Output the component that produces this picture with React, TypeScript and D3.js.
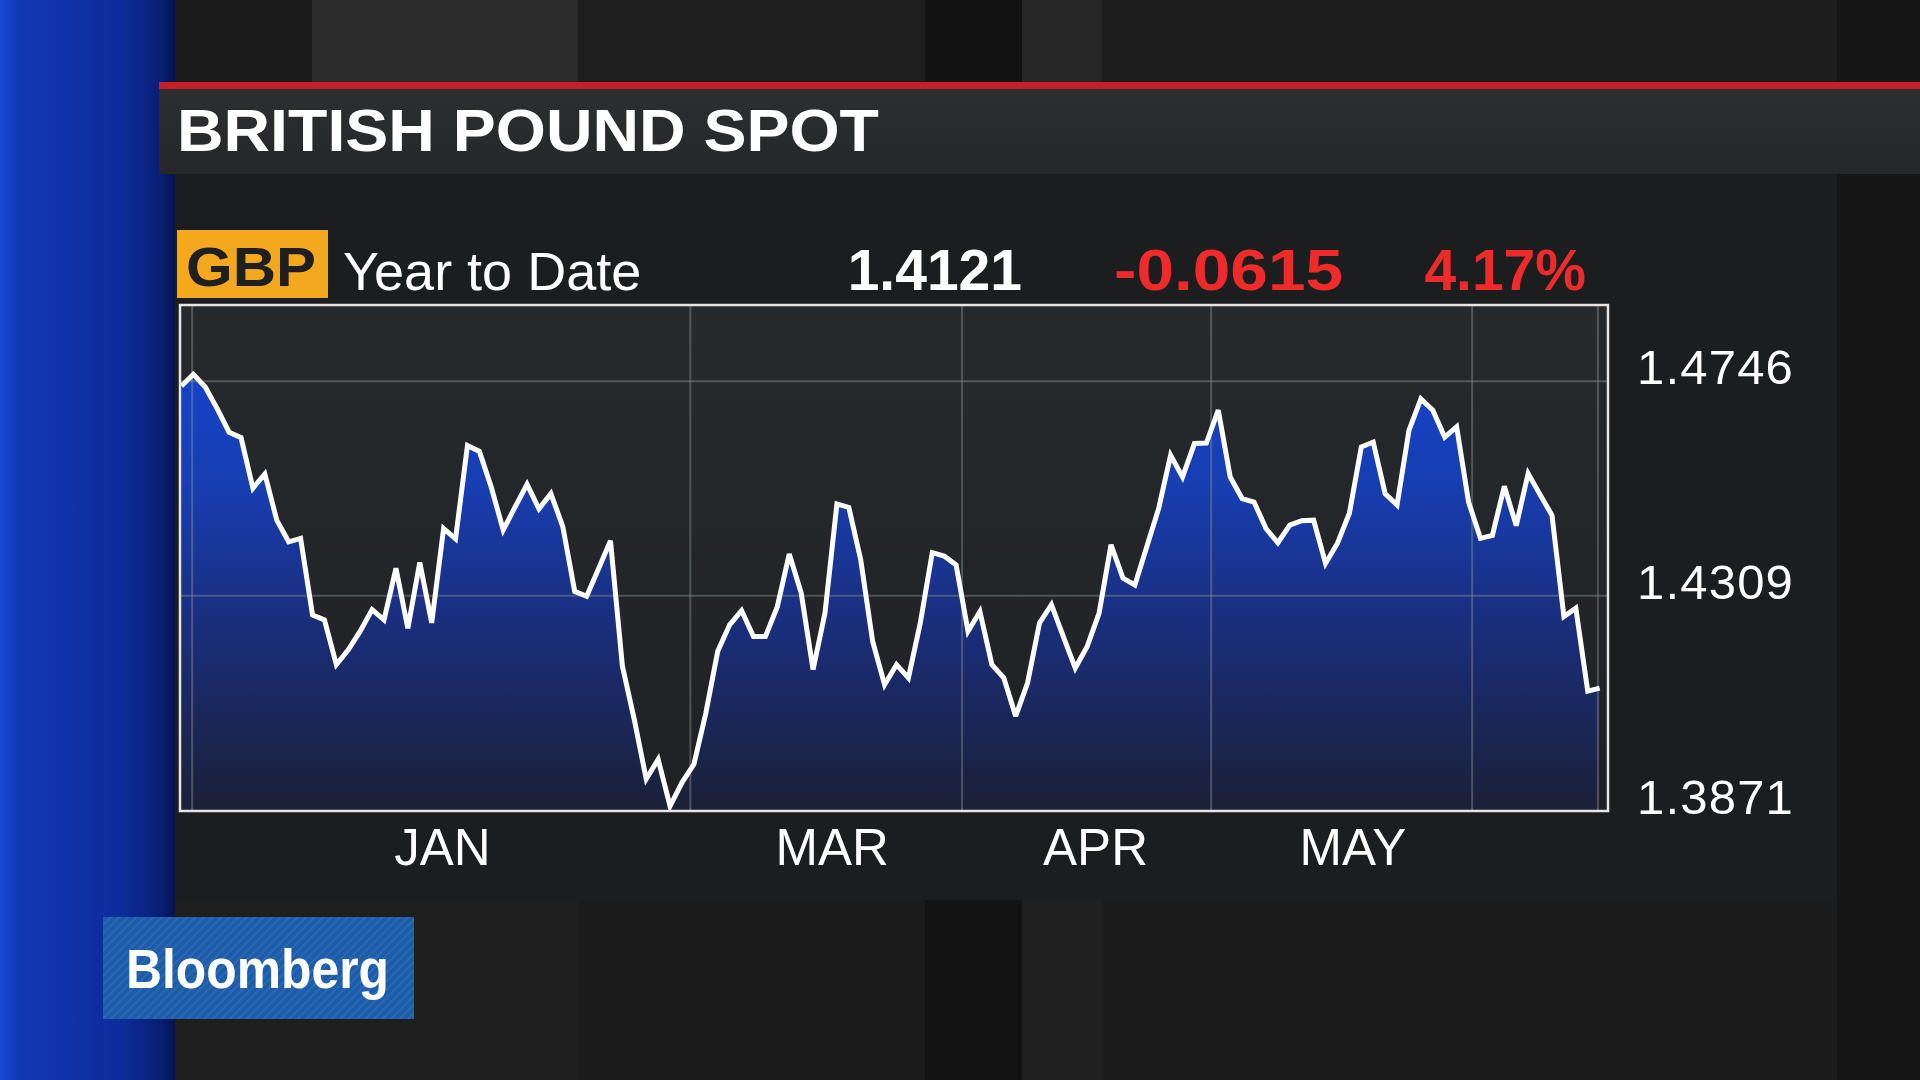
import { useEffect, useRef } from 'react';
import * as d3 from 'd3';

// GBP spot, one value per trading day, first value = Dec 31 close (day -1)
const firstDay = -1;
const gbpClose = [
  1.4736, 1.476, 1.4734, 1.469, 1.4642, 1.4631, 1.4528, 1.4557, 1.4463, 1.4419,
  1.4426, 1.427, 1.426, 1.4169, 1.4199, 1.4237, 1.4281, 1.426, 1.4365, 1.4243,
  1.4377, 1.4254, 1.4446, 1.4425, 1.4615, 1.4603, 1.453, 1.4443, 1.449, 1.4536,
  1.4486, 1.4517, 1.445, 1.4318, 1.4308, 1.4364, 1.4421, 1.4166, 1.4057, 1.3936,
  1.3976, 1.3881, 1.3929, 1.3966, 1.407, 1.4196, 1.425, 1.4279, 1.4226, 1.4226,
  1.4287, 1.4394, 1.4315, 1.4159, 1.4274, 1.4496, 1.4489, 1.4382, 1.4216, 1.4128,
  1.4169, 1.4142, 1.4254, 1.4397, 1.439, 1.4372, 1.4237, 1.4277, 1.4169, 1.4142,
  1.4064, 1.4132, 1.4254, 1.4291, 1.4226, 1.4162, 1.4206, 1.4274, 1.4413, 1.4345,
  1.4331, 1.4409, 1.4487, 1.4595, 1.4551, 1.4619, 1.462, 1.4687, 1.4551, 1.4507,
  1.45, 1.4446, 1.4417, 1.4453, 1.4462, 1.4463, 1.4375, 1.4416, 1.4477, 1.4612,
  1.4622, 1.4517, 1.4494, 1.4646, 1.471, 1.4687, 1.4632, 1.4653, 1.45, 1.4426,
  1.4432, 1.4532, 1.4452, 1.4558, 1.4515, 1.4473, 1.4267, 1.4284, 1.4115, 1.4121,
];

// month boundaries in trading days
const monthGrid = [-0.1, 41.7, 64.5, 85.4, 107.3, 117.85];
const monthLabels = ['JAN', 'MAR', 'APR', 'MAY'];
const monthLabelDays = [20.9, 53.6, 75.7, 97.3];
const yTicks = [1.4746, 1.4309, 1.3871];

const ticker = 'GBP';
const period = 'Year to Date';
const lastPrice = '1.4121';
const netChange = '-0.0615';
const pctChange = '4.17%';

export default function App() {
  const svgRef = useRef<SVGSVGElement>(null);

  useEffect(() => {
    if (!svgRef.current) return;
    const W = 1920;
    const H = 1080;
    const plot = { left: 180, right: 1608, top: 305, bottom: 811 };
    const font = '"Liberation Sans", Arial, sans-serif';

    d3.select(svgRef.current).selectAll('*').remove();
    const svg = d3.select(svgRef.current).attr('width', W).attr('height', H);
    const defs = svg.append('defs');

    const blue = defs.append('linearGradient').attr('id', 'blueStrip')
      .attr('x1', 0).attr('x2', 1).attr('y1', 0).attr('y2', 0);
    blue.append('stop').attr('offset', 0).attr('stop-color', '#1b47d8');
    blue.append('stop').attr('offset', 0.1).attr('stop-color', '#1338b4');
    blue.append('stop').attr('offset', 0.7).attr('stop-color', '#0d2b9a');
    blue.append('stop').attr('offset', 0.93).attr('stop-color', '#081d72');
    blue.append('stop').attr('offset', 1).attr('stop-color', '#05124a');

    const plotBg = defs.append('linearGradient').attr('id', 'plotBg')
      .attr('x1', 0).attr('x2', 0).attr('y1', 0).attr('y2', 1);
    plotBg.append('stop').attr('offset', 0).attr('stop-color', '#272a2d');
    plotBg.append('stop').attr('offset', 1).attr('stop-color', '#1f2124');

    const fill = defs.append('linearGradient').attr('id', 'areaFill')
      .attr('gradientUnits', 'userSpaceOnUse')
      .attr('x1', 0).attr('x2', 0).attr('y1', plot.top).attr('y2', plot.bottom);
    fill.append('stop').attr('offset', 0).attr('stop-color', '#1346d6');
    fill.append('stop').attr('offset', 0.35).attr('stop-color', '#173eb2');
    fill.append('stop').attr('offset', 0.6).attr('stop-color', '#1a2f82');
    fill.append('stop').attr('offset', 1).attr('stop-color', '#1b2036');

    const bar = defs.append('linearGradient').attr('id', 'titleBar')
      .attr('x1', 0).attr('x2', 0).attr('y1', 0).attr('y2', 1);
    bar.append('stop').attr('offset', 0).attr('stop-color', '#2d2e30');
    bar.append('stop').attr('offset', 1).attr('stop-color', '#262729');

    defs.append('clipPath').attr('id', 'plotClip')
      .append('rect')
      .attr('x', plot.left).attr('y', plot.top)
      .attr('width', plot.right - plot.left).attr('height', plot.bottom - plot.top);

    // studio background
    svg.append('rect').attr('width', W).attr('height', H).attr('fill', '#1b1b1c');
    const topCols = [
      [175, 312, '#1b1b1b'], [312, 578, '#2c2c2c'], [578, 925, '#1e1e1e'],
      [925, 1022, '#121212'], [1022, 1102, '#262626'], [1102, 1837, '#1d1d1d'], [1837, 1920, '#151515'],
    ] as [number, number, string][];
    topCols.forEach(([a, b, c]) => svg.append('rect').attr('x', a).attr('y', 0).attr('width', b - a).attr('height', 84).attr('fill', c));
    const botCols = [
      [175, 578, '#1e1e1f'], [578, 925, '#1b1b1b'], [925, 1022, '#131313'],
      [1022, 1102, '#202020'], [1102, 1837, '#1c1c1c'], [1837, 1920, '#151515'],
    ] as [number, number, string][];
    botCols.forEach(([a, b, c]) => svg.append('rect').attr('x', a).attr('y', 900).attr('width', b - a).attr('height', 180).attr('fill', c));
    svg.append('rect').attr('x', 175).attr('y', 174).attr('width', 1662).attr('height', 726).attr('fill', '#1c1d1f');
    svg.append('rect').attr('x', 1837).attr('y', 174).attr('width', 83).attr('height', 726).attr('fill', '#151515');
    svg.append('rect').attr('x', 0).attr('y', 0).attr('width', 175).attr('height', H).attr('fill', 'url(#blueStrip)');

    // title bar
    svg.append('rect').attr('x', 159).attr('y', 82).attr('width', W - 159).attr('height', 7).attr('fill', '#c61f29');
    svg.append('rect').attr('x', 159).attr('y', 89).attr('width', W - 159).attr('height', 85).attr('fill', 'url(#titleBar)');
    svg.append('text')
      .attr('x', 177).attr('y', 151)
      .attr('font-family', font)
      .attr('font-weight', 700).attr('font-size', 60)
      .attr('textLength', 702).attr('lengthAdjust', 'spacingAndGlyphs')
      .attr('fill', '#ffffff')
      .text('BRITISH POUND SPOT');

    // header row
    svg.append('rect').attr('x', 177).attr('y', 230).attr('width', 151).attr('height', 68).attr('fill', '#f3a81d');
    svg.append('text').attr('x', 186).attr('y', 286).attr('font-family', font).attr('font-weight', 700)
      .attr('font-size', 56).attr('fill', '#1f1f1f').attr('textLength', 130).attr('lengthAdjust', 'spacingAndGlyphs').text(ticker);
    svg.append('text').attr('x', 343).attr('y', 290).attr('font-family', font)
      .attr('font-size', 54).attr('fill', '#ffffff').text(period);
    svg.append('text').attr('x', 1022).attr('y', 290).attr('text-anchor', 'end').attr('font-family', font)
      .attr('font-weight', 700).attr('font-size', 57).attr('fill', '#ffffff').text(lastPrice);
    svg.append('text').attr('x', 1343).attr('y', 290).attr('text-anchor', 'end').attr('font-family', font)
      .attr('font-weight', 700).attr('font-size', 57).attr('fill', '#ee2b2b')
      .attr('textLength', 229).attr('lengthAdjust', 'spacingAndGlyphs').text(netChange);
    svg.append('text').attr('x', 1586).attr('y', 290).attr('text-anchor', 'end').attr('font-family', font)
      .attr('font-weight', 700).attr('font-size', 57).attr('fill', '#ee2b2b').text(pctChange);

    // scales
    const x = d3.scaleLinear().domain([-1.12, 118.7]).range([plot.left, plot.right]);
    const y = d3.scaleLinear().domain([1.3871, 1.4901]).range([plot.bottom, plot.top]);
    const data = gbpClose.map((v, i) => ({ day: i + firstDay, value: v }));

    svg.append('rect')
      .attr('x', plot.left).attr('y', plot.top)
      .attr('width', plot.right - plot.left).attr('height', plot.bottom - plot.top)
      .attr('fill', 'url(#plotBg)');

    const g = svg.append('g').attr('clip-path', 'url(#plotClip)');

    // area
    const area = d3.area<{ day: number; value: number }>()
      .x(d => x(d.day)).y0(y(yTicks[2])).y1(d => y(d.value));
    g.append('path').datum(data).attr('d', area).attr('fill', 'url(#areaFill)');

    // grid over the fill, faint
    g.selectAll('.hgrid').data(yTicks.slice(0, 2)).join('line')
      .attr('x1', plot.left).attr('x2', plot.right)
      .attr('y1', d => y(d)).attr('y2', d => y(d))
      .attr('stroke', '#8a8d90').attr('stroke-opacity', 0.45).attr('stroke-width', 2);
    g.selectAll('.vgrid').data(monthGrid).join('line')
      .attr('x1', d => x(d)).attr('x2', d => x(d))
      .attr('y1', plot.top).attr('y2', plot.bottom)
      .attr('stroke', '#8a8d90').attr('stroke-opacity', 0.45).attr('stroke-width', 2);

    const line = d3.line<{ day: number; value: number }>()
      .x(d => x(d.day)).y(d => y(d.value));
    g.append('path').datum(data).attr('d', line)
      .attr('fill', 'none').attr('stroke', '#ffffff').attr('stroke-width', 5)
      .attr('stroke-linejoin', 'miter').attr('stroke-miterlimit', 3);

    // frame
    svg.append('rect')
      .attr('x', plot.left).attr('y', plot.top)
      .attr('width', plot.right - plot.left).attr('height', plot.bottom - plot.top)
      .attr('fill', 'none').attr('stroke', '#e6e6e6').attr('stroke-width', 2.5);

    // y labels on the right
    svg.selectAll('.ylab').data(yTicks).join('text')
      .attr('x', 1637).attr('y', d => y(d) + 3)
      .attr('font-family', font).attr('font-size', 49).attr('letter-spacing', 1.2).attr('fill', '#ffffff')
      .text(d => d.toFixed(4));

    // month labels
    svg.selectAll('.xlab').data(monthLabels).join('text')
      .attr('x', (d, i) => x(monthLabelDays[i]))
      .attr('y', 865)
      .attr('text-anchor', 'middle')
      .attr('font-family', font).attr('font-size', 51).attr('fill', '#ffffff')
      .text(d => d);

    // Bloomberg bug
    const pat = defs.append('pattern').attr('id', 'bbgTex').attr('patternUnits', 'userSpaceOnUse')
      .attr('width', 6).attr('height', 6).attr('patternTransform', 'rotate(45)');
    pat.append('rect').attr('width', 6).attr('height', 6).attr('fill', '#1f5ca8');
    pat.append('rect').attr('width', 2).attr('height', 6).attr('fill', '#2769b6');
    svg.append('rect').attr('x', 103).attr('y', 917).attr('width', 311).attr('height', 102).attr('fill', 'url(#bbgTex)');
    svg.append('text').attr('x', 126).attr('y', 988)
      .attr('font-family', font).attr('font-weight', 700).attr('font-size', 56)
      .attr('textLength', 263).attr('lengthAdjust', 'spacingAndGlyphs')
      .attr('fill', '#ffffff').text('Bloomberg');
  }, []);

  return (
    <div style={{ position: 'fixed', left: 0, top: 0, width: 1920, height: 1080, background: '#1b1b1c' }}>
      <svg ref={svgRef} style={{ display: 'block' }} />
    </div>
  );
}
